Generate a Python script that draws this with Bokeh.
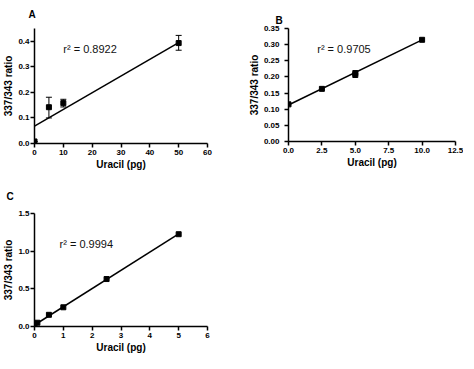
from bokeh.plotting import figure
from bokeh.layouts import column, row
from bokeh.models import ColumnDataSource, Whisker, TeeHead, FixedTicker, Range1d
from bokeh.embed import file_html
from bokeh.resources import INLINE
from bokeh.core.properties import value

# ---------------- data ----------------
# Panel A
a_x = [0, 5, 10, 50]
a_y = [0.008, 0.142, 0.158, 0.393]
a_upper = [0.008, 0.181, 0.173, 0.423]
a_lower = [0.008, 0.100, 0.143, 0.365]
a_fit_x = [0, 50]
a_fit_y = [0.068, 0.395]
a_r2 = "r² = 0.8922"
a_xticks = [0, 10, 20, 30, 40, 50, 60]
a_yticks = [0.0, 0.1, 0.2, 0.3, 0.4]

# Panel B
b_x = [0, 2.5, 5, 5, 10]
b_y = [0.115, 0.163, 0.212, 0.206, 0.315]
b_fit_x = [0, 10]
b_fit_y = [0.113, 0.315]
b_r2 = "r² = 0.9705"
b_xticks = [0.0, 2.5, 5.0, 7.5, 10.0, 12.5]
b_yticks = [0.0, 0.05, 0.10, 0.15, 0.20, 0.25, 0.30, 0.35]

# Panel C
c_x = [0, 0.1, 0.5, 1, 2.5, 5]
c_y = [0.02, 0.05, 0.155, 0.255, 0.63, 1.225]
c_fit_x = [0, 5]
c_fit_y = [0.02, 1.228]
c_r2 = "r² = 0.9994"
c_xticks = [0, 1, 2, 3, 4, 5, 6]
c_yticks = [0.0, 0.5, 1.0, 1.5]

X_LABEL = "Uracil (pg)"
Y_LABEL = "337/343 ratio"

FONT = "Liberation Sans"


def make_panel(fw, fh, bl, br, bt, bb, xr, yr, xticks, yticks, fmt_x, fmt_y, ystandoff,
               letter, letter_offset, letter_standoff):
    p = figure(frame_width=fw, frame_height=fh, output_backend="svg", toolbar_location=None,
               x_range=Range1d(*xr), y_range=Range1d(*yr),
               min_border_left=bl, min_border_right=br, min_border_top=bt, min_border_bottom=bb)
    p.outline_line_color = None
    p.xgrid.visible = False
    p.ygrid.visible = False
    p.background_fill_color = "white"
    p.border_fill_color = "white"
    p.title.text = letter
    p.title.align = "left"
    p.title.vertical_align = "top"
    p.title.offset = letter_offset
    p.title.standoff = letter_standoff
    p.title.text_font = FONT
    p.title.text_font_style = "bold"
    p.title.text_font_size = "10px"
    p.title.text_color = "black"
    for ax, ticks, fmt in ((p.xaxis[0], xticks, fmt_x), (p.yaxis[0], yticks, fmt_y)):
        ax.ticker = FixedTicker(ticks=ticks)
        ax.major_label_overrides = {t: fmt.format(t) for t in ticks}
        ax.minor_tick_line_color = None
        ax.major_tick_in = 0
        ax.major_tick_out = 4
        ax.major_tick_line_width = 1.5
        ax.axis_line_width = 1.5
        ax.axis_line_color = "black"
        ax.major_tick_line_color = "black"
        ax.major_label_text_font = FONT
        ax.major_label_text_font_style = "bold"
        ax.major_label_text_font_size = "8px"
        ax.major_label_text_color = "black"
        ax.axis_label_text_font = FONT
        ax.axis_label_text_font_style = "bold"
        ax.axis_label_text_font_size = "10px"
        ax.axis_label_text_color = "black"
    p.xaxis[0].major_label_standoff = 2
    p.xaxis[0].axis_label_standoff = 1
    p.yaxis[0].major_label_standoff = ystandoff
    p.yaxis[0].axis_label_standoff = 1
    p.xaxis.axis_label = X_LABEL
    p.yaxis.axis_label = Y_LABEL
    return p


def add_content(p, xs, ys, fx, fy, r2, r2x, r2y):
    p.line(fx, fy, line_color="black", line_width=1.5)
    p.scatter(xs, ys, marker="square", size=5, fill_color="black", line_color="black")
    p.text([r2x], [r2y], text=[r2], text_font=value(FONT), text_font_size="11px",
           text_baseline="middle", text_align="left", text_color="#111111")


# Panel A
pA = make_panel(173, 115, 29, 30, 28, 28, (0, 60), (0, 0.45), a_xticks, a_yticks,
                "{:.0f}", "{:.1f}", 1, "A", -6, 14)
src = ColumnDataSource(dict(x=a_x, upper=a_upper, lower=a_lower))
pA.add_layout(Whisker(source=src, base="x", upper="upper", lower="lower", line_width=1,
                      upper_head=TeeHead(size=6, line_width=1), lower_head=TeeHead(size=6, line_width=1)))
add_content(pA, a_x, a_y, a_fit_x, a_fit_y, a_r2, 10.0, 0.369)

# Panel B
pB = make_panel(167, 113, 51, 8, 25, 32, (0, 12.5), (0, 0.35), b_xticks, b_yticks,
                "{:.1f}", "{:.2f}", 5, "B", -13, 2)
add_content(pB, b_x, b_y, b_fit_x, b_fit_y, b_r2, 2.15, 0.288)

# Panel C
pC = make_panel(173, 113, 29, 30, 41, 28, (0, 6), (0, 1.5), c_xticks, c_yticks,
                "{:.0f}", "{:.1f}", 1, "C", -28, 20)
add_content(pC, c_x, c_y, c_fit_x, c_fit_y, c_r2, 0.87, 1.10)

layout = column(row(pA, pB), pC)

open("out.html", "w").write(file_html(layout, INLINE))
